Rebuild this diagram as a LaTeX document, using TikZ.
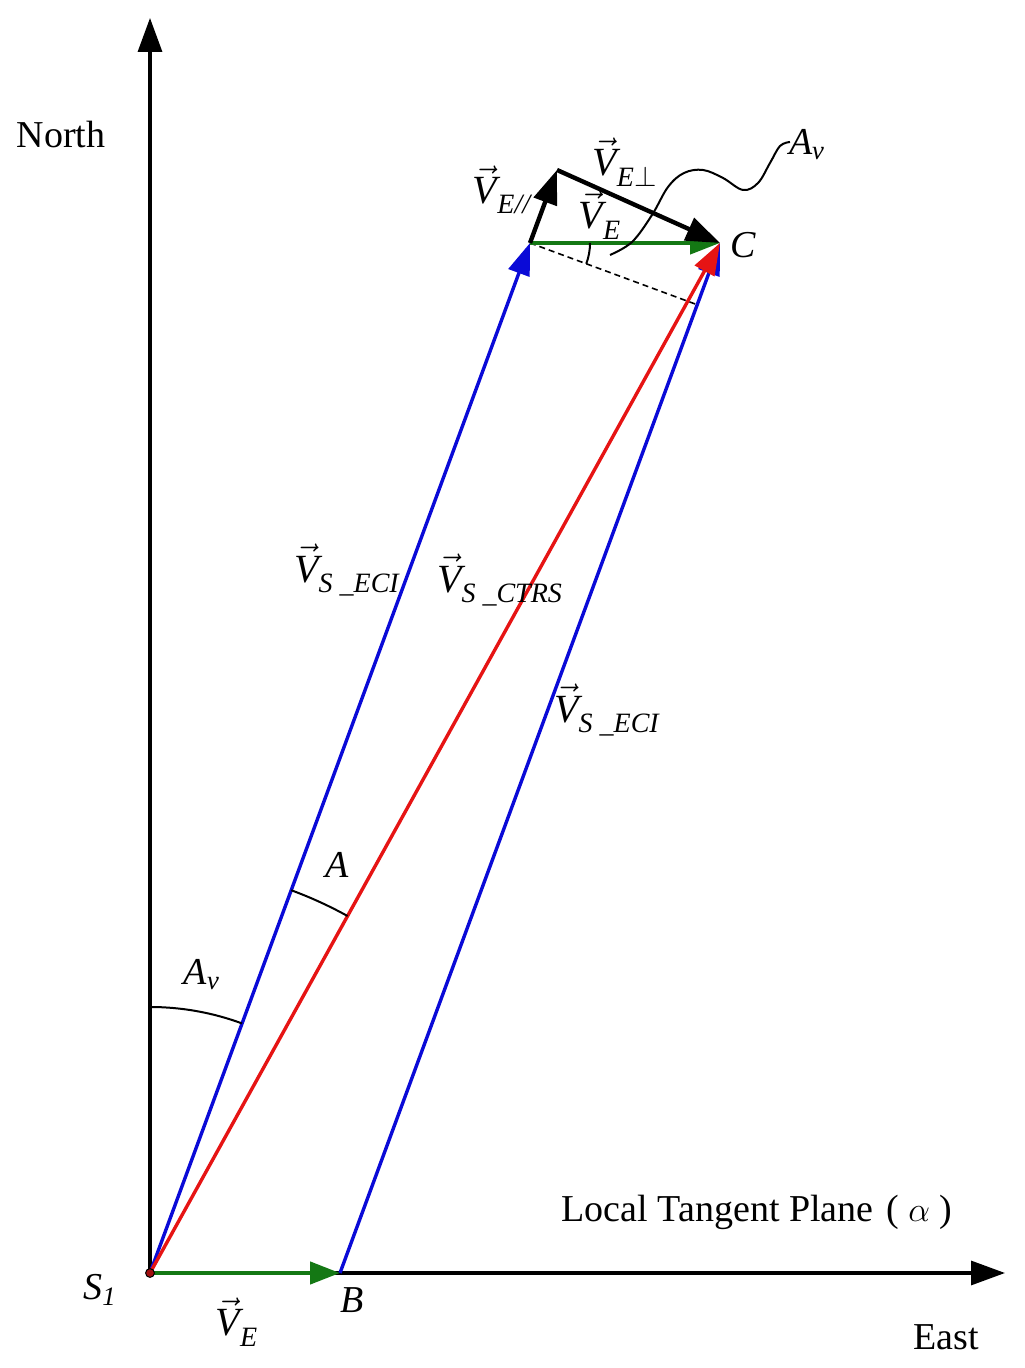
\documentclass[tikz,border=0pt]{standalone}
\usepackage{amsmath}
\usepackage{fontspec}
\setmainfont{Liberation Serif}
\usetikzlibrary{arrows.meta,calc,angles}
\definecolor{vblue}{RGB}{10,10,215}
\definecolor{vred}{RGB}{230,20,20}
\definecolor{vgreen}{RGB}{20,120,20}
\newcommand{\VV}[1]{$\vec{\textit{V}}_{\raisebox{-2pt}{$\scriptstyle #1$}}$}
\begin{document}
\begin{tikzpicture}[x=0.5pt,y=0.5pt,
  lab/.style={font=\fontsize{19}{22}\selectfont, inner sep=1pt},
  vlab/.style={font=\fontsize{20}{24}\selectfont, inner sep=1pt},
  axis/.style={line width=1.6pt,-{Triangle[length=17pt,width=12pt]}},
  bluevec/.style={vblue,line width=1.7pt,-{Triangle[length=16pt,width=11pt]}},
  redvec/.style={vred,line width=1.7pt,-{Triangle[length=16pt,width=11pt]}},
  greenvec/.style={vgreen,line width=2.2pt,-{Triangle[length=15pt,width=11pt]}},
  blackvec/.style={black,line width=2.2pt,-{Triangle[length=17pt,width=12pt]}},
  anglearc/.style={draw,line width=1pt}]
\useasboundingbox (0,0) rectangle (1024,1368);
% key points
\coordinate (S) at (150,95);
\coordinate (N) at (150,1350);
\coordinate (E) at (1005,95);
\coordinate (B) at (340,95);
\coordinate (P) at (530,1125);
\coordinate (C) at (720,1125);
\coordinate (Q) at (557,1198);
\coordinate (F) at ($(B)!(P)!(C)$);
% axes
\draw[axis] (S) -- (N);
\draw[axis] (S) -- (E);
% blue vectors
\draw[bluevec] (S) -- (P);
\draw[bluevec] (B) -- (C);
% red vector
\draw[redvec] (S) -- (C);
% dashed perpendicular
\draw[line width=0.8pt, dash pattern=on 3pt off 2pt] (P) -- (F);
% green vectors
\draw[greenvec] (S) -- (B);
\draw[greenvec] (P) -- (C);
% black components
\draw[blackvec] (P) -- (Q);
\draw[blackvec] (Q) -- (C);
% origin dot
\filldraw[fill=vred!70!black, draw=black, line width=0.5pt] (S) circle (2.2pt);
% angle arcs
\pic[anglearc, angle radius=133pt] {angle = P--S--N};
\pic[anglearc, angle radius=204pt] {angle = C--S--P};
\pic[anglearc, angle radius=30pt] {angle = F--P--C};
% leader curve for A_v
\draw[line width=1pt] plot[smooth, tension=0.6] coordinates {(610,1113) (632,1126) (652,1153) (668,1181) (684,1195) (703,1198) (723,1190) (743,1178) (758,1185) (770,1205) (780,1222) (790,1226)};
% labels
\node[lab] (north) at (61,1233) {North};
\node[lab] (east) at (946,31) {East};
\node[lab] (ltp) at (757,156) {Local Tangent Plane\,\,( $\alpha$ )};
\node[lab] (s1) at (100,78) {$\textit{S}_{\textit{1}}$};
\node[lab] (bl) at (352,68) {\textit{B}};
\node[lab] (cl) at (743,1123) {\textit{C}};
\node[lab] (al) at (337,503) {\textit{A}};
\node[lab] (avl) at (202,393) {$\textit{A}_{\textit{v}}$};
\node[lab] (avt) at (807,1223) {$\textit{A}_{\textit{v}}$};
\node[vlab] (ve1) at (237,46) {\VV{\textit{E}}};
\node[vlab] (ve2) at (600,1153) {\VV{\textit{E}}};
\node[vlab] (vpar) at (502,1178) {\VV{\textit{E//}}};
\node[vlab] (vperp) at (625,1206) {\VV{\textit{E}\perp}};
\node[vlab] (veci1) at (347,798) {\VV{\textit{S \_ECI}}};
\node[vlab] (vctrs) at (500,788) {\VV{\textit{S \_CTRS}}};
\node[vlab] (veci2) at (607,658) {\VV{\textit{S \_ECI}}};
\end{tikzpicture}
\end{document}
